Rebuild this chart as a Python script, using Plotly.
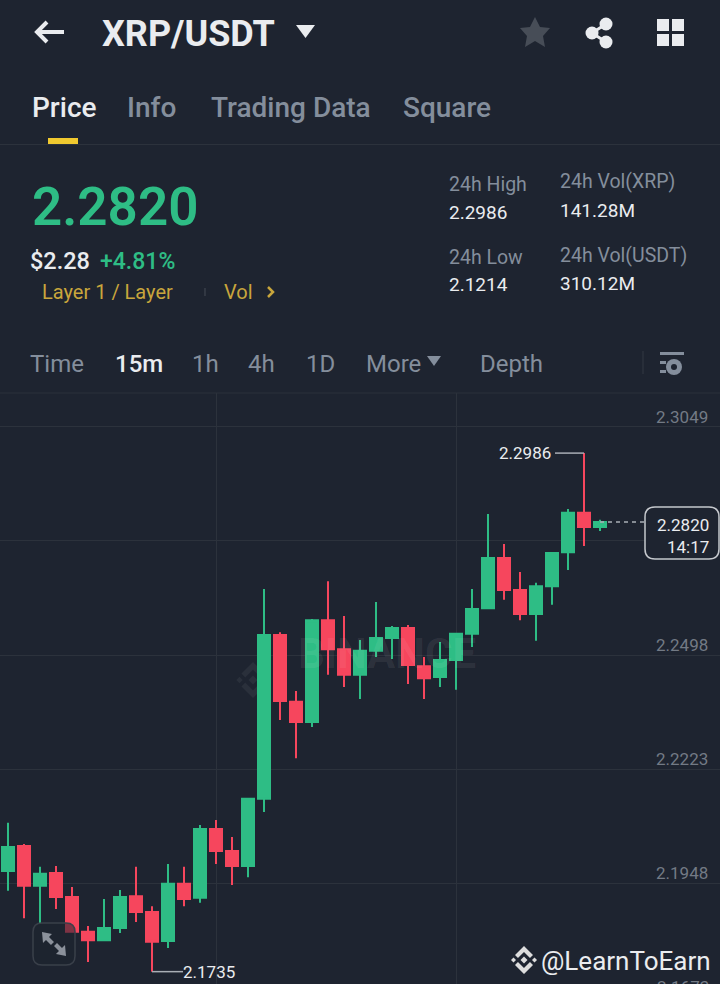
import plotly.graph_objects as go

# candles, oldest first (15m)
opens = [2.1978, 2.2038, 2.1942, 2.1973, 2.1915, 2.1831, 2.1811, 2.1840, 2.1917, 2.1879,
         2.1809, 2.1947, 2.1913, 2.2079, 2.2026, 2.1990, 2.2152, 2.2547, 2.2386, 2.2337,
         2.2583, 2.2513, 2.2451, 2.2509, 2.2540, 2.2564, 2.2472, 2.2446, 2.2487, 2.2550,
         2.2612, 2.2733, 2.2656, 2.2598, 2.2665, 2.2747, 2.2842, 2.2808]
highs = [2.2094, 2.2043, 2.1988, 2.1990, 2.1939, 2.1845, 2.1910, 2.1932, 2.1988, 2.1893,
         2.1995, 2.1988, 2.2089, 2.2101, 2.2060, 2.2154, 2.2658, 2.2554, 2.2412, 2.2586,
         2.2677, 2.2593, 2.2535, 2.2627, 2.2569, 2.2571, 2.2494, 2.2530, 2.2550, 2.2658,
         2.2839, 2.2767, 2.2699, 2.2673, 2.2745, 2.2851, 2.2986, 2.2825]
lows = [2.1930, 2.1864, 2.1852, 2.1886, 2.1831, 2.1758, 2.1811, 2.1828, 2.1855, 2.1735,
        2.1792, 2.1893, 2.1901, 2.1995, 2.1944, 2.1963, 2.2120, 2.2342, 2.2250, 2.2325,
        2.2451, 2.2422, 2.2393, 2.2494, 2.2489, 2.2429, 2.2393, 2.2422, 2.2415, 2.2518,
        2.2612, 2.2632, 2.2583, 2.2533, 2.2620, 2.2704, 2.2762, 2.2798]
closes = [2.2036, 2.1942, 2.1971, 2.1915, 2.1831, 2.1811, 2.1840, 2.1915, 2.1879, 2.1807,
          2.1947, 2.1910, 2.2079, 2.2026, 2.1990, 2.2152, 2.2547, 2.2388, 2.2337, 2.2583,
          2.2513, 2.2451, 2.2509, 2.2540, 2.2564, 2.2475, 2.2443, 2.2487, 2.2550, 2.2610,
          2.2733, 2.2656, 2.2598, 2.2665, 2.2745, 2.2842, 2.2808, 2.2820]
candle_idx = list(range(len(opens)))

price_ticks = [2.3049, 2.2774, 2.2498, 2.2223, 2.1948]
price_labels = ['2.3049', '', '2.2498', '2.2223', '2.1948']
time_grid = [13, 28]

BG = '#1E2430'
GRID = '#2C323C'
GREEN = '#2EBD85'
RED = '#F6465D'
GRAY = '#848E9C'
AXIS_GRAY = '#737A85'
WHITE = '#EAECEF'
GOLD = '#C9A63C'
FONT = 'Roboto'

W, H = 720, 984
CHART_TOP = 393


def px(x):
    return x / W


def py(y):
    return 1 - y / H


def path(*pts, close=False):
    s = 'M' + ' L'.join(f'{px(x):.5f} {py(y):.5f}' for x, y in pts)
    return s + (' Z' if close else '')


fig = go.Figure()
fig.add_trace(go.Candlestick(x=candle_idx, open=opens, high=highs, low=lows, close=closes,
                             increasing=dict(line=dict(color=GREEN, width=2), fillcolor=GREEN),
                             decreasing=dict(line=dict(color=RED, width=2), fillcolor=RED),
                             whiskerwidth=0, hoverinfo='skip', showlegend=False))


def text(x, y, s, size, color=GRAY, anchor='left', weight=400):
    # annotations carry a little padding, pull them back onto the measured edge
    x = x - 1.5 if anchor == 'left' else x + 1.5
    fig.add_annotation(xref='paper', yref='paper', x=px(x), y=py(y), text=s, showarrow=False,
                       xanchor=anchor, yanchor='middle', borderpad=0,
                       font=dict(family=FONT, size=size, color=color, weight=weight))


def poly(pts, color, layer='above'):
    fig.add_shape(type='path', xref='paper', yref='paper', path=path(*pts, close=True),
                  fillcolor=color, line_width=0, layer=layer)


def stroke(pts, color, width=1, dash='solid'):
    fig.add_shape(type='path', xref='paper', yref='paper', path=path(*pts),
                  line=dict(color=color, width=width, dash=dash), fillcolor='rgba(0,0,0,0)')


def dot(x, y, r, color):
    fig.add_shape(type='circle', xref='paper', yref='paper', x0=px(x - r), x1=px(x + r),
                  y0=py(y + r), y1=py(y - r), fillcolor=color, line_width=0)


def round_rect(x0, y0, x1, y1, r, line, fill, width=1.5):
    p = (f'M{px(x0 + r)} {py(y0)} L{px(x1 - r)} {py(y0)} Q{px(x1)} {py(y0)} {px(x1)} {py(y0 + r)} '
         f'L{px(x1)} {py(y1 - r)} Q{px(x1)} {py(y1)} {px(x1 - r)} {py(y1)} '
         f'L{px(x0 + r)} {py(y1)} Q{px(x0)} {py(y1)} {px(x0)} {py(y1 - r)} '
         f'L{px(x0)} {py(y0 + r)} Q{px(x0)} {py(y0)} {px(x0 + r)} {py(y0)} Z')
    fig.add_shape(type='path', xref='paper', yref='paper', path=p, fillcolor=fill,
                  line=dict(color=line, width=width))


def binance_logo(cx, cy, s, color, layer='above'):
    # s is half the height of the mark
    k = s / 14
    for sign in (-1, 1):
        poly([(cx, cy + sign * 14 * k), (cx + 9 * k, cy + sign * 5 * k), (cx + 6 * k, cy + sign * 2 * k),
              (cx, cy + sign * 8 * k), (cx - 6 * k, cy + sign * 2 * k), (cx - 9 * k, cy + sign * 5 * k)],
             color, layer)
        sx = cx + sign * 10.5 * k
        poly([(sx - 2.5 * k, cy), (sx, cy - 2.5 * k), (sx + 2.5 * k, cy), (sx, cy + 2.5 * k)], color, layer)
    poly([(cx - 3.5 * k, cy), (cx, cy - 3.5 * k), (cx + 3.5 * k, cy), (cx, cy + 3.5 * k)], color, layer)


# header
stroke([(36, 32), (64, 32)], WHITE, 4)
stroke([(47, 22), (37, 32), (47, 42)], WHITE, 4)
text(102, 34, 'XRP/USDT', 36, WHITE, weight=700)
poly([(296, 25), (315, 25), (305.5, 38)], WHITE)
poly([(535, 17), (540, 27), (550, 28), (543, 36), (545, 47), (535, 41), (525, 47), (527, 36),
      (520, 28), (530, 27)], '#474D57')
stroke([(606, 24), (592, 33), (606, 42)], WHITE, 3)
dot(606, 24, 6.5, WHITE)
dot(592, 33, 6.5, WHITE)
dot(606, 42, 6.5, WHITE)
poly([(657, 19), (669, 19), (669, 31), (657, 31)], WHITE)
poly([(672, 19), (684, 19), (684, 31), (672, 31)], WHITE)
poly([(657, 34), (669, 34), (669, 46), (657, 46)], WHITE)
poly([(672, 34), (684, 34), (684, 46), (672, 46)], WHITE)

# tabs
text(32, 108, 'Price', 28, WHITE, weight=500)
text(127, 108, 'Info', 28, GRAY, weight=500)
text(211, 108, 'Trading Data', 28, GRAY, weight=500)
text(403, 108, 'Square', 28, GRAY, weight=500)
poly([(48, 138), (78, 138), (78, 144), (48, 144)], '#F0C92F')
stroke([(0, 144.5), (720, 144.5)], GRID, 1)

# price block
text(32, 207, '2.2820', 53, GREEN, weight=600)
text(30, 261, '$2.28', 23.5, WHITE, weight=500)
text(100, 261, '+4.81%', 23, GREEN, weight=500)
text(42, 292, 'Layer 1 / Layer', 20, GOLD)
stroke([(205, 288), (205, 296)], '#474D57', 1)
text(224, 292, 'Vol', 20, GOLD)
stroke([(268, 287), (273, 292), (268, 297)], GOLD, 2.5)

text(449, 185, '24h High', 19.5)
text(449, 213, '2.2986', 19, WHITE)
text(449, 257, '24h Low', 19.5)
text(449, 285, '2.1214', 19, WHITE)
text(560, 182, '24h Vol(XRP)', 19.5)
text(560, 211, '141.28M', 19, WHITE)
text(560, 255, '24h Vol(USDT)', 19.5)
text(560, 283, '310.12M', 19, WHITE)

# interval bar
text(30, 364, 'Time', 24)
text(115, 364, '15m', 24, WHITE, weight=500)
text(192, 364, '1h', 24)
text(248, 364, '4h', 24)
text(306, 364, '1D', 24)
text(366, 364, 'More', 24)
poly([(427, 356), (441, 356), (434, 366)], GRAY)
text(480, 364, 'Depth', 24)
stroke([(643, 351), (643, 374)], GRID, 1.5)
poly([(660, 352), (684, 352), (684, 355), (660, 355)], GRAY)
poly([(660, 361), (666, 361), (666, 364), (660, 364)], GRAY)
poly([(660, 370), (666, 370), (666, 373), (660, 373)], GRAY)
dot(674, 367, 8, GRAY)
dot(674, 367, 3, BG)
stroke([(0, CHART_TOP), (720, CHART_TOP)], GRID, 1)

# watermark behind the candles
binance_logo(253, 680, 18, '#2A303B', layer='below')
fig.add_annotation(xref='paper', yref='paper', x=px(387), y=py(680), text='BINANCE', showarrow=False,
                   font=dict(family=FONT, size=42, weight=700, color='rgba(255,255,255,0.07)'))

# axis price labels sit just above their grid line
for tick, label in zip(price_ticks, price_labels):
    if label:
        fig.add_annotation(xref='paper', yref='y', x=px(709.5), y=tick, text=label, showarrow=False,
                           xanchor='right', yanchor='bottom', yshift=-2,
                           font=dict(family=FONT, size=17, color=AXIS_GRAY))
# the next label down falls below the axis range, only its top edge shows
text(708, 987, '2.1673', 17, AXIS_GRAY, anchor='right')

# high / low callouts
hi_i = highs.index(max(highs))
lo_i = lows.index(min(lows))
fig.add_shape(type='line', xref='x', yref='y', xsizemode='pixel', xanchor=hi_i, x0=-29, x1=0,
              y0=highs[hi_i], y1=highs[hi_i], line=dict(color='#A9AEB5', width=1.5))
fig.add_annotation(x=hi_i, y=highs[hi_i], text=f'{highs[hi_i]:.4f}', showarrow=False, xanchor='right',
                   xshift=-31, font=dict(family=FONT, size=17, color=WHITE))
fig.add_shape(type='line', xref='x', yref='y', xsizemode='pixel', xanchor=lo_i, x0=0, x1=31,
              y0=lows[lo_i], y1=lows[lo_i], line=dict(color='#A9AEB5', width=1.5))
fig.add_annotation(x=lo_i, y=lows[lo_i], text=f'{lows[lo_i]:.4f}', showarrow=False, xanchor='left',
                   xshift=29, font=dict(family=FONT, size=17, color=WHITE))

# last price tag
fig.add_shape(type='line', xref='x', yref='y', xsizemode='pixel', xanchor=candle_idx[-1], x0=0, x1=45,
              y0=closes[-1], y1=closes[-1], line=dict(color='#A9AEB5', width=1.5, dash='4px,4px'))
round_rect(645, 507, 719, 559, 10, '#C4C7CC', BG)
text(708, 525, f'{closes[-1]:.4f}', 17, WHITE, anchor='right')
text(708, 547, '14:17', 17, WHITE, anchor='right')

# expand button
round_rect(33, 923, 75, 965, 9, '#3A404A', 'rgba(30,36,48,0.55)', 1.5)
poly([(42, 932), (52, 934), (49, 937), (54, 942), (51, 945), (46, 940), (43, 943)], '#8B919B')
poly([(66, 956), (56, 954), (59, 951), (54, 946), (57, 943), (62, 948), (65, 945)], '#8B919B')

# post watermark
text(541, 961, '@LearnToEarn', 26, WHITE)
binance_logo(524, 960, 14, '#DDDDDD')

fig.update_layout(width=W, height=H, margin=dict(l=0, r=0, t=0, b=0), autosize=False,
                  paper_bgcolor=BG, plot_bgcolor=BG, showlegend=False, boxgap=0.25, boxgroupgap=0)
fig.update_xaxes(range=[-0.5, 44.5], rangeslider_visible=False, tickvals=time_grid, showticklabels=False,
                 showgrid=True, gridcolor=GRID, gridwidth=1, zeroline=False, showline=False, ticks='')
fig.update_yaxes(domain=[0, py(CHART_TOP)], range=[2.17052, 2.31310], tickvals=price_ticks, showticklabels=False,
                 showgrid=True, gridcolor=GRID, gridwidth=1, zeroline=False, showline=False, ticks='')

fig.write_html("out.html", config={'displayModeBar': False},
               post_script="document.body.style.margin='0';")
